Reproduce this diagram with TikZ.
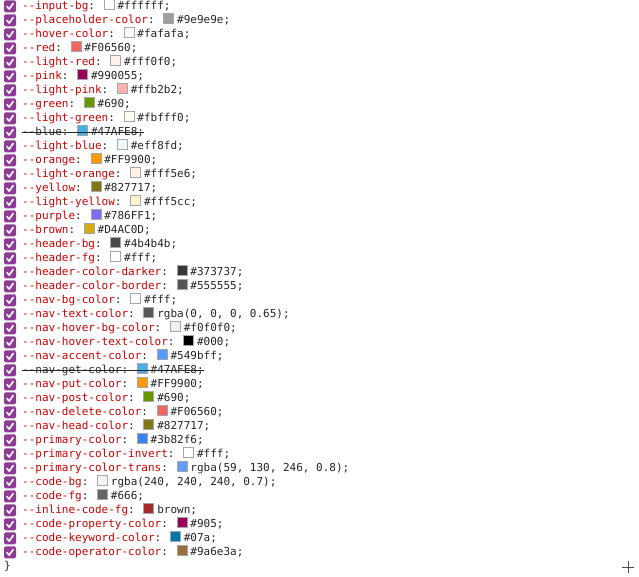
\documentclass[tikz,border=0pt]{standalone}
\usepackage{fontspec}
\setmonofont{DejaVu Sans Mono}
\definecolor{cssred}{HTML}{C80000}
\definecolor{chk}{HTML}{8E3B97}
\tikzset{
  nm/.style={anchor=base west,inner sep=0pt,font=\ttfamily\fontsize{11}{13}\selectfont,text=cssred},
  vl/.style={anchor=base west,inner sep=0pt,font=\ttfamily\fontsize{11}{13}\selectfont,text=black!85},
  sw/.style={draw=black!35,line width=0.6pt,minimum size=10pt,inner sep=0pt,anchor=south west},
  cb/.style={fill=chk,rounded corners=1.5pt,minimum size=12pt,inner sep=0pt},
  ck/.style={draw=white,line width=1.6pt,line cap=round,line join=round}
}
\newcommand\cssrow[5]{% idx, name, swatch html, value, struck
  \definecolor{swc#1}{HTML}{#3}%
  \pgfmathsetmacro\yy{577-10-14*#1}
  \node[cb] (c#1) at (10,\yy+3.5) {};
  \draw[ck] ([shift={(-3,0)}]c#1.center) -- ([shift={(-0.8,-2.6)}]c#1.center) -- ([shift={(3.2,3)}]c#1.center);
  \ifnum#5=1
    \node[nm,text=black!80] (n#1) at (22,\yy) {{-}{-}#2:};
  \else
    \node[nm] (n#1) at (22,\yy) {{-}{-}#2\textcolor{black!85}{:}};
  \fi
  \node[sw,fill=swc#1] (s#1) at ([xshift=8.5]n#1.base east) {};
  \node[vl] (v#1) at ([xshift=3]s#1.south east) {#4};
  \ifnum#5=1
    \draw[black!85,line width=0.8pt] ([yshift=3.5]n#1.base west) -- ([yshift=3.5]v#1.base east);
  \fi
}
\begin{document}
\begin{tikzpicture}[x=1pt,y=1pt]
\useasboundingbox (0,0) rectangle (639,577);
\fill[white] (0,0) rectangle (639,577);
\cssrow{0}{input-bg}{FFFFFF}{\#ffffff;}{0}
\cssrow{1}{placeholder-color}{9E9E9E}{\#9e9e9e;}{0}
\cssrow{2}{hover-color}{FAFAFA}{\#fafafa;}{0}
\cssrow{3}{red}{F06560}{\#F06560;}{0}
\cssrow{4}{light-red}{FFF0F0}{\#fff0f0;}{0}
\cssrow{5}{pink}{990055}{\#990055;}{0}
\cssrow{6}{light-pink}{FFB2B2}{\#ffb2b2;}{0}
\cssrow{7}{green}{669900}{\#690;}{0}
\cssrow{8}{light-green}{FBFFF0}{\#fbfff0;}{0}
\cssrow{9}{blue}{47AFE8}{\#47AFE8;}{1}
\cssrow{10}{light-blue}{EFF8FD}{\#eff8fd;}{0}
\cssrow{11}{orange}{FF9900}{\#FF9900;}{0}
\cssrow{12}{light-orange}{FFF5E6}{\#fff5e6;}{0}
\cssrow{13}{yellow}{827717}{\#827717;}{0}
\cssrow{14}{light-yellow}{FFF5CC}{\#fff5cc;}{0}
\cssrow{15}{purple}{786FF1}{\#786FF1;}{0}
\cssrow{16}{brown}{D4AC0D}{\#D4AC0D;}{0}
\cssrow{17}{header-bg}{4B4B4B}{\#4b4b4b;}{0}
\cssrow{18}{header-fg}{FFFFFF}{\#fff;}{0}
\cssrow{19}{header-color-darker}{373737}{\#373737;}{0}
\cssrow{20}{header-color-border}{555555}{\#555555;}{0}
\cssrow{21}{nav-bg-color}{FFFFFF}{\#fff;}{0}
\cssrow{22}{nav-text-color}{595959}{rgba(0, 0, 0, 0.65);}{0}
\cssrow{23}{nav-hover-bg-color}{F0F0F0}{\#f0f0f0;}{0}
\cssrow{24}{nav-hover-text-color}{000000}{\#000;}{0}
\cssrow{25}{nav-accent-color}{549BFF}{\#549bff;}{0}
\cssrow{26}{nav-get-color}{47AFE8}{\#47AFE8;}{1}
\cssrow{27}{nav-put-color}{FF9900}{\#FF9900;}{0}
\cssrow{28}{nav-post-color}{669900}{\#690;}{0}
\cssrow{29}{nav-delete-color}{F06560}{\#F06560;}{0}
\cssrow{30}{nav-head-color}{827717}{\#827717;}{0}
\cssrow{31}{primary-color}{3B82F6}{\#3b82f6;}{0}
\cssrow{32}{primary-color-invert}{FFFFFF}{\#fff;}{0}
\cssrow{33}{primary-color-trans}{629BF8}{rgba(59, 130, 246, 0.8);}{0}
\cssrow{34}{code-bg}{F3F3F3}{rgba(240, 240, 240, 0.7);}{0}
\cssrow{35}{code-fg}{666666}{\#666;}{0}
\cssrow{36}{inline-code-fg}{A52A2A}{brown;}{0}
\cssrow{37}{code-property-color}{990055}{\#905;}{0}
\cssrow{38}{code-keyword-color}{0077AA}{\#07a;}{0}
\cssrow{39}{code-operator-color}{9A6E3A}{\#9a6e3a;}{0}
\node[vl] (close) at (4,577-10-14*40) {\}};
\draw[black!70,line width=0.8pt] (622,577-567) -- (634,577-567) (628,577-561) -- (628,577-573);
\end{tikzpicture}
\end{document}
